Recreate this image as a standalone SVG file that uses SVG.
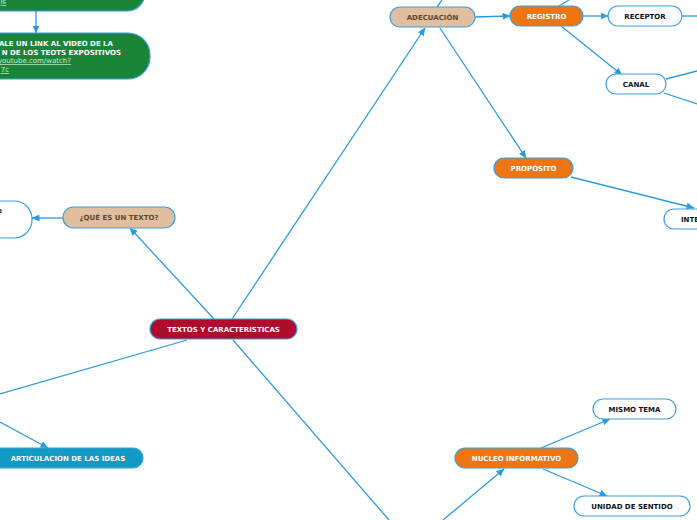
<svg xmlns="http://www.w3.org/2000/svg" width="697" height="520" viewBox="0 0 697 520">
<defs>
<marker id="arr" markerUnits="userSpaceOnUse" markerWidth="8" markerHeight="7" refX="7.5" refY="3.5" orient="auto">
<path d="M0,0 L8,3.5 L0,7 z" fill="#2b9be0"/>
</marker>
</defs>
<style>
.ln{stroke:#2b9be0;stroke-width:1.3;fill:none}
.a{marker-end:url(#arr)}
.nd{stroke:#3a9fe0;stroke-width:1.2}
.t{font-family:"DejaVu Sans",Verdana,sans-serif;font-weight:bold;font-size:7px;text-anchor:middle}
.w{fill:#ffffff}
.k{fill:#111111}
.br{fill:#5c4632}
.tan{fill:#e1bf9e}
.or{fill:#ee7511}
.wh{fill:#ffffff}
.lk{font-family:"DejaVu Sans",Verdana,sans-serif;font-size:7px;fill:#d8ecd8;text-decoration:underline}
</style>
<rect width="697" height="520" fill="#ffffff"/>
<g id="connectors">
<line class="ln a" x1="36" y1="11" x2="36" y2="33"/>
<line class="ln" x1="437" y1="7" x2="442" y2="0"/>
<line class="ln a" x1="475" y1="17" x2="510" y2="16"/>
<line class="ln" x1="559" y1="6" x2="569" y2="0"/>
<line class="ln a" x1="583" y1="16" x2="608" y2="16"/>
<line class="ln" x1="682" y1="16" x2="697" y2="16"/>
<line class="ln a" x1="561" y1="26" x2="622" y2="75"/>
<line class="ln" x1="666" y1="79" x2="697" y2="71"/>
<line class="ln" x1="664" y1="93" x2="697" y2="104"/>
<line class="ln a" x1="440" y1="28" x2="526" y2="158"/>
<line class="ln a" x1="571" y1="177" x2="694" y2="208"/>
<line class="ln a" x1="232" y1="319" x2="425" y2="28"/>
<line class="ln a" x1="214" y1="319" x2="130" y2="228"/>
<line class="ln a" x1="63" y1="218" x2="32" y2="218"/>
<line class="ln" x1="187" y1="340" x2="0" y2="394"/>
<line class="ln a" x1="0" y1="422" x2="48" y2="448"/>
<line class="ln" x1="233" y1="340" x2="389" y2="520"/>
<line class="ln a" x1="443" y1="520" x2="504" y2="469"/>
<line class="ln a" x1="541" y1="448" x2="610" y2="419"/>
<line class="ln a" x1="543" y1="469" x2="607" y2="496"/>
</g>
<g id="green-link-1">
<rect class="nd" x="-30" y="-30" width="175" height="41" rx="18" fill="#1a8538"/>
<text class="lk" x="6" y="4" text-anchor="end">ls</text>
</g>
<g id="green-link-2">
<rect class="nd" x="-30" y="33" width="180" height="46" rx="22" fill="#1a8538"/>
<text class="t w" x="113" y="46" text-anchor="end" style="text-anchor:end">ALE UN LINK AL VIDEO DE LA</text>
<text class="t w" x="121" y="55" style="text-anchor:end">N DE LOS TEOTS EXPOSITIVOS</text>
<text class="lk" x="71" y="63" text-anchor="end">youtube.com/watch?</text>
<text class="lk" x="9" y="72" text-anchor="end">7c</text>
</g>
<g id="adecuacion">
<rect class="nd tan" x="390" y="7" width="85" height="20" rx="10"/>
<text class="t br" x="432.5" y="19.5">ADECUACIÓN</text>
</g>
<g id="registro">
<rect class="nd or" x="510" y="6" width="73" height="20" rx="10"/>
<text class="t w" x="546.5" y="18.5">REGISTRO</text>
</g>
<g id="receptor">
<rect class="nd wh" x="608" y="6" width="74" height="20" rx="10"/>
<text class="t k" x="645" y="18.5">RECEPTOR</text>
</g>
<g id="canal">
<rect class="nd wh" x="606" y="74" width="60" height="20" rx="10"/>
<text class="t k" x="636" y="86.5">CANAL</text>
</g>
<g id="proposito">
<rect class="nd or" x="494" y="158" width="79" height="20" rx="10"/>
<text class="t w" x="533.5" y="170.5">PROPÓSITO</text>
</g>
<g id="intencion">
<rect class="nd wh" x="664" y="209" width="70" height="20" rx="10"/>
<text class="t k" x="681" y="221.5" style="text-anchor:start">INTENCIÓN</text>
</g>
<g id="que-es-texto">
<rect class="nd tan" x="63" y="207" width="112" height="21" rx="10.5"/>
<text class="t br" x="119" y="220">¿QUÉ ES UN TEXTO?</text>
</g>
<g id="left-white">
<rect class="nd wh" x="-60" y="201" width="92" height="37" rx="18"/>
<text class="t k" x="2" y="213" style="text-anchor:end">e</text>
</g>
<g id="textos">
<rect class="nd" x="150" y="319" width="147" height="20" rx="10" fill="#b00b2c"/>
<text class="t w" x="223.5" y="331.5">TEXTOS Y CARACTERISTICAS</text>
</g>
<g id="articulacion">
<rect class="nd" x="-30" y="448" width="173" height="20" rx="10" fill="#1299c4"/>
<text class="t w" x="68" y="460.5">ARTICULACION DE LAS IDEAS</text>
</g>
<g id="nucleo">
<rect class="nd or" x="455" y="448" width="123" height="20" rx="10"/>
<text class="t w" x="516.5" y="460.5">NUCLEO INFORMATIVO</text>
</g>
<g id="mismo-tema">
<rect class="nd wh" x="593" y="399" width="83" height="20" rx="10"/>
<text class="t k" x="634.5" y="411.5">MISMO TEMA</text>
</g>
<g id="unidad-sentido">
<rect class="nd wh" x="574" y="496" width="116" height="20" rx="10"/>
<text class="t k" x="632" y="508.5">UNIDAD DE SENTIDO</text>
</g>
</svg>
